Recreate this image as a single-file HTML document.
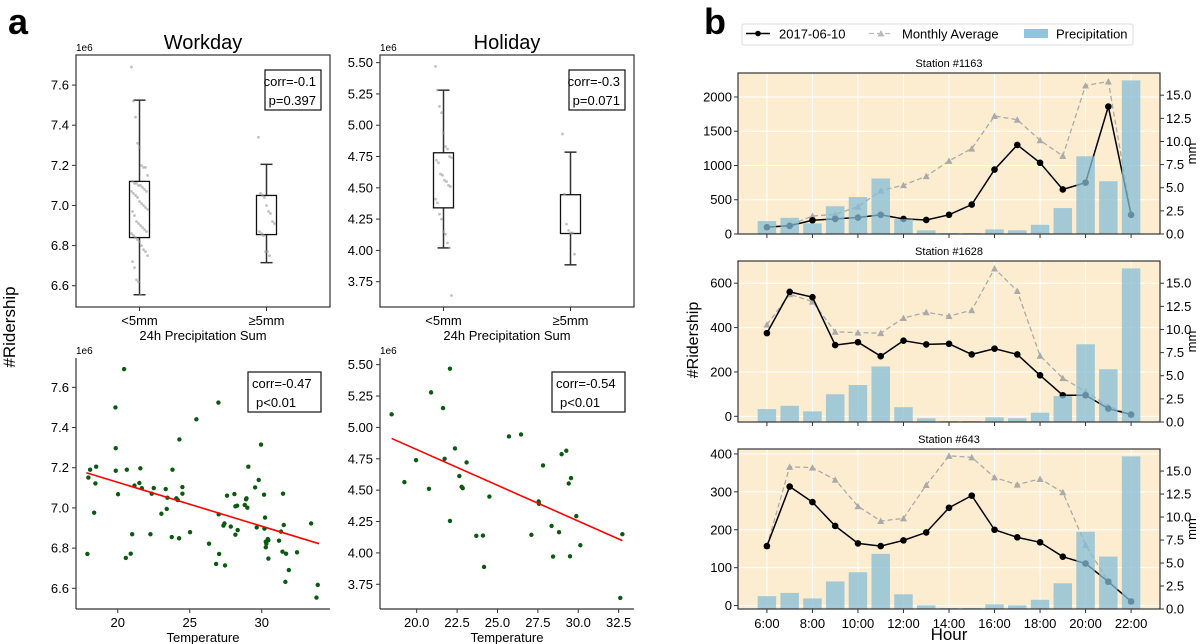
<!DOCTYPE html>
<html><head><meta charset="utf-8"><style>
html,body{margin:0;padding:0;background:#fff}
svg{display:block;font-family:"Liberation Sans","DejaVu Sans",sans-serif}
</style></head><body>
<svg id="fig" width="1200" height="644" viewBox="0 0 1200 644" xmlns="http://www.w3.org/2000/svg"></svg>
<script>
// ---------- DATA ----------
const hours=[6,7,8,9,10,11,12,13,14,15,16,17,18,19,20,21,22];
const hourTicks=[6,8,10,12,14,16,18,20,22];
const hourTickLabels=["6:00","8:00","10:00","12:00","14:00","16:00","18:00","20:00","22:00"];
const precip=[1.4,1.75,1.15,3.0,4.0,6.0,1.6,0.4,0.1,0.1,0.5,0.4,1.0,2.8,8.4,5.7,16.6];
const s1163Day=[100,120,200,220,240,280,220,205,280,430,940,1300,1040,650,750,1860,280];
const s1163Avg=[100,130,262,286,398,631,713,844,1067,1247,1722,1668,1368,1140,2168,2226,300];
const s1628Day=[375,561,537,321,334,271,341,324,327,279,305,279,185,95,95,35,8];
const s1628Avg=[413,550,517,381,377,375,443,469,452,478,666,565,273,172,112,45,8];
const s643Day=[157,314,273,210,164,157,172,193,258,290,200,180,167,129,111,63,11];
const s643Avg=[157,366,364,332,262,223,230,318,395,391,338,319,334,299,160,63,11];
const mmTicks=[0,2.5,5,7.5,10,12.5,15];
const mmTickLabels=["0.0","2.5","5.0","7.5","10.0","12.5","15.0"];
const t1163=[0,500,1000,1500,2000];
const t1628=[0,200,400,600];
const t643=[0,100,200,300,400];

const wdTemp=[17.89,17.96,18.08,18.36,18.45,18.50,19.84,19.86,19.86,20.02,20.44,20.56,20.63,20.90,21.00,21.16,21.50,21.57,21.67,22.27,22.36,22.50,23.03,23.33,23.40,23.45,23.75,23.80,24.07,24.17,24.26,24.28,24.49,24.49,25.02,25.46,26.34,26.83,26.99,27.01,27.04,27.34,27.41,27.45,27.59,27.85,28.10,28.17,28.17,28.29,28.33,28.82,28.91,28.94,29.00,29.07,29.54,29.65,29.79,29.95,30.16,30.23,30.19,30.28,30.32,30.28,30.42,30.46,30.46,31.20,31.34,31.44,31.48,31.53,31.69,31.64,31.88,32.45,33.43,33.80,33.89];
const wdRide=[6.771,7.151,7.190,6.976,7.122,7.205,7.500,7.297,7.185,7.068,7.691,6.751,7.190,6.772,6.869,7.111,7.124,7.197,7.098,6.869,7.071,7.099,6.971,7.094,6.995,7.051,6.855,7.190,7.048,7.039,6.849,7.341,7.104,7.071,6.879,7.441,6.822,6.721,7.524,6.968,6.771,6.912,6.923,6.714,7.061,6.907,7.069,7.008,6.867,7.011,6.890,7.015,7.043,7.048,7.001,7.205,7.102,6.903,7.139,7.315,7.066,6.952,6.897,6.832,6.822,6.804,6.845,6.839,6.748,6.837,6.882,6.782,7.071,6.915,6.772,6.632,6.691,6.779,6.923,6.554,6.617];
const wdFit=[[17.82,7.175],[33.98,6.822]];
const hdTemp=[18.45,19.24,19.96,20.76,20.89,21.63,21.73,22.06,22.06,22.37,22.64,22.78,22.85,23.09,23.69,24.10,24.17,24.50,25.71,26.46,27.10,27.55,27.57,27.82,28.35,28.44,28.81,28.97,29.26,29.41,29.49,29.55,29.88,30.13,32.60,32.73];
const hdRide=[5.104,4.564,4.739,4.511,5.279,5.154,4.750,5.468,4.255,4.832,4.612,4.527,4.516,4.721,4.136,4.138,3.888,4.449,4.928,4.944,4.144,4.410,4.391,4.697,4.215,3.971,4.165,4.787,4.814,4.553,3.973,4.596,4.293,4.061,3.641,4.149];
const hdFit=[[18.45,4.912],[32.73,4.098]];

const wdLowPts=[7.69,7.52,7.44,7.31,7.29,7.20,7.19,7.19,7.15,7.12,7.11,7.11,7.10,7.10,7.09,7.08,7.07,7.07,7.06,7.05,7.04,7.02,7.01,7.00,6.99,6.98,6.97,6.95,6.92,6.91,6.90,6.89,6.88,6.87,6.86,6.85,6.84,6.83,6.82,6.80,6.78,6.77,6.75,6.72,6.69,6.63,6.62,6.555];
const wdHighPts=[7.34,7.06,7.05,7.04,7.00,6.97,6.96,6.92,6.91,6.87,6.86,6.85,6.77,6.77,6.75];
const hdLowPts=[5.47,5.28,5.15,5.10,4.94,4.83,4.81,4.75,4.74,4.72,4.70,4.61,4.60,4.56,4.55,4.52,4.51,4.41,4.38,4.29,4.25,4.15,4.13,4.06,4.02,3.64];
const hdHighPts=[4.93,4.45,4.21,4.16,4.14,4.14,3.97];
const wdBoxLow=[6.555,6.84,6.98,7.12,7.525];
const wdBoxHigh=[6.715,6.855,6.92,7.05,7.205];
const hdBoxLow=[4.02,4.34,4.55,4.78,5.28];
const hdBoxHigh=[3.885,4.135,4.16,4.445,4.785];
const boxCats=["<5mm","≥5mm"];
const wdYTicks=[6.6,6.8,7.0,7.2,7.4,7.6];
const hdYTicks=[3.75,4.00,4.25,4.50,4.75,5.00,5.25,5.50];
const wdXTicks=[20,25,30];
const hdXTicks=[20,22.5,25,27.5,30,32.5];

// ---------- HELPERS ----------
const NS="http://www.w3.org/2000/svg";
const svg=document.getElementById('fig');
function el(tag,attrs,parent,text){const e=document.createElementNS(NS,tag);for(const k in attrs)e.setAttribute(k,attrs[k]);if(text!==undefined)e.textContent=text;(parent||svg).appendChild(e);return e;}
function lin(d0,d1,r0,r1){return v=>r0+(v-d0)*(r1-r0)/(d1-d0);}
function txt(x,y,s,size,anchor,parent,extra){const t=el('text',Object.assign({x:x,y:y,'font-size':size,'text-anchor':anchor||'middle',fill:'#000'},extra||{}),parent,s);return t;}

let t=txt(8,34,'a',36,'start',null,{'font-weight':'bold'});


t=txt(704,34,'b',36,'start',null,{'font-weight':'bold'});


t=txt(0,0,'#Ridership',17,'middle',null,{transform:'translate(15,327) rotate(-90)'});



// ---------- BOX PANELS ----------
function boxPanel(name,x0,x1,y0,y1,ylim,yTicks,dec,boxes,pts,corr,title,cx){
  const g=el('g',{});
  
  
  const ys=lin(ylim[0],ylim[1],y1,y0);
  const cxs=[x0+(x1-x0)*0.25,x0+(x1-x0)*0.75];
  el('rect',{x:x0,y:y0,width:x1-x0,height:y1-y0,fill:'#fff',stroke:'#333','stroke-width':1.2},g);
  yTicks.forEach(v=>{const y=ys(v);el('line',{x1:x0-4,x2:x0,y1:y,y2:y,stroke:'#333'},g);
    const tl=txt(x0-7,y+4.5,v.toFixed(dec),13,'end',g);
    
    });
  txt(x0,y0-4,'1e6',10,'start',g);
  boxes.forEach((b,i)=>{const cx=cxs[i];const w=20;
    el('line',{x1:cx,x2:cx,y1:ys(b[0]),y2:ys(b[4]),stroke:'#333','stroke-width':1.5},g);
    el('line',{x1:cx-6,x2:cx+6,y1:ys(b[0]),y2:ys(b[0]),stroke:'#333','stroke-width':1.5},g);
    el('line',{x1:cx-6,x2:cx+6,y1:ys(b[4]),y2:ys(b[4]),stroke:'#333','stroke-width':1.5},g);
    const r=el('rect',{x:cx-w/2,y:ys(b[3]),width:w,height:ys(b[1])-ys(b[3]),fill:'#fff',stroke:'#111','stroke-width':1.3},g);
    
    
    pts[i].forEach((v,j)=>{const jx=((j*53)%17-8)/8*8;
      const c=el('circle',{cx:cx+jx,cy:ys(v),r:1.4,fill:'#999','fill-opacity':0.6},g);
      
      });
    el('line',{x1:cx,x2:cx,y1:y1,y2:y1+4,stroke:'#333'},g);
    const cl=txt(cx,y1+18,boxCats[i],13,'middle',g);
    
    
  });
  const xt=txt((x0+x1)/2,y1+33,'24h Precipitation Sum',13,'middle',g);
  
  
  const tt=txt(cx,y0-6,title,20,'middle',g);
  
  
  const bx=x1-65,by=y0+15;
  const lb=el('rect',{x:bx,y:by,width:56,height:40,fill:'#fff',stroke:'#111','stroke-width':1.2},g);
  
  
  txt(bx+51,by+16,corr[0],13,'end',g);txt(bx+51,by+35,corr[1],13,'end',g);
}
boxPanel('workday-box-plot',76,330,55,307,[6.494,7.75],wdYTicks,1,[wdBoxLow,wdBoxHigh],[wdLowPts,wdHighPts],['corr=-0.1','p=0.397'],'Workday',203);
boxPanel('holiday-box-plot',380,634,55,307,[3.548,5.561],hdYTicks,2,[hdBoxLow,hdBoxHigh],[hdLowPts,hdHighPts],['corr=-0.3','p=0.071'],'Holiday',507);

// ---------- SCATTER PANELS ----------
function scatterPanel(name,x0,x1,y0,y1,xlim,ylim,xTicks,xdec,yTicks,ydec,tx,ry,fit,corr){
  const g=el('g',{});
  
  
  const xs=lin(xlim[0],xlim[1],x0,x1),ys=lin(ylim[0],ylim[1],y1,y0);
  el('line',{x1:x0,x2:x0,y1:y0,y2:y1,stroke:'#333','stroke-width':1.2},g);
  el('line',{x1:x0,x2:x1,y1:y1,y2:y1,stroke:'#333','stroke-width':1.2},g);
  yTicks.forEach(v=>{const y=ys(v);el('line',{x1:x0-4,x2:x0,y1:y,y2:y,stroke:'#333'},g);
    const tl=txt(x0-7,y+4.5,v.toFixed(ydec),13,'end',g);
    
    });
  xTicks.forEach(v=>{const x=xs(v);el('line',{x1:x,x2:x,y1:y1,y2:y1+4,stroke:'#333'},g);
    const tl=txt(x,y1+18,v.toFixed(xdec),13,'middle',g);
    
    });
  txt(x0,y0-4,'1e6',10,'start',g);
  const xt=txt((x0+x1)/2,y1+33,'Temperature',13,'middle',g);
  
  
  tx.forEach((v,i)=>{const c=el('circle',{cx:xs(v),cy:ys(ry[i]),r:2.2,fill:'#0a5a12'},g);
    
    });
  const ln=el('line',{x1:xs(fit[0][0]),y1:ys(fit[0][1]),x2:xs(fit[1][0]),y2:ys(fit[1][1]),stroke:'#f00','stroke-width':1.6},g);
  
  
  const bx=x1-82,by=y0+14;
  const lb=el('rect',{x:bx,y:by,width:73,height:40,fill:'#fff',stroke:'#111','stroke-width':1.2},g);
  
  
  txt(bx+4,by+16,corr[0],13,'start',g);txt(bx+8,by+35,corr[1],13,'start',g);
}
scatterPanel('workday-scatter',76,330,358,609,[17.1,34.74],[6.497,7.746],wdXTicks,0,wdYTicks,1,wdTemp,wdRide,wdFit,['corr=-0.47','p<0.01']);
scatterPanel('holiday-scatter',380,634,358,609,[17.73,33.45],[3.553,5.553],hdXTicks,1,hdYTicks,2,hdTemp,hdRide,hdFit,['corr=-0.54','p<0.01']);

// ---------- RIGHT STATION PANELS ----------
const RX0=738,RX1=1160;
const hx=lin(4.73,23.27,RX0,RX1);
function station(name,title,y0,y1,ylim,ticks,day,avg,showX){
  const g=el('g',{});
  
  
  const ys=lin(ylim[0],ylim[1],y1,y0);
  const ms=lin(0,17.4,y1,y0);
  el('rect',{x:RX0,y:y0,width:RX1-RX0,height:y1-y0,fill:'#fdedd0'},g);
  ticks.forEach(v=>{const y=ys(v);el('line',{x1:RX0,x2:RX1,y1:y,y2:y,stroke:'#fff','stroke-width':1},g);
    el('line',{x1:RX0-4,x2:RX0,y1:y,y2:y,stroke:'#333'},g);
    const tl=txt(RX0-6,y+4.5,String(v),13,'end',g);
    
    });
  hourTicks.forEach((h,i)=>{const x=hx(h);el('line',{x1:x,x2:x,y1:y0,y2:y1,stroke:'#fff','stroke-width':1},g);
    el('line',{x1:x,x2:x,y1:y1,y2:y1+4,stroke:'#333'},g);
    if(showX){const tl=txt(x,y1+19,hourTickLabels[i],13,'middle',g);
      
      }});
  const ap=hours.map((h,i)=>hx(h)+','+ys(avg[i])).join(' ');
  const al=el('polyline',{points:ap,fill:'none',stroke:'#aaa','stroke-width':1.3,'stroke-dasharray':'5,3'},g);
  
  
  hours.forEach((h,i)=>{const x=hx(h),y=ys(avg[i]);
    const m=el('polygon',{points:(x-3.5)+','+(y+3)+' '+(x+3.5)+','+(y+3)+' '+x+','+(y-3.5),fill:'#aaa'},g);
    
    });
  const dp=hours.map((h,i)=>hx(h)+','+ys(day[i])).join(' ');
  const dl=el('polyline',{points:dp,fill:'none',stroke:'#000','stroke-width':1.5},g);
  
  
  hours.forEach((h,i)=>{const c=el('circle',{cx:hx(h),cy:ys(day[i]),r:3.3,fill:'#000'},g);
    
    });
  hours.forEach((h,i)=>{const bw=18.5;
    const b=el('rect',{x:hx(h)-bw/2,y:ms(precip[i]),width:bw,height:y1-ms(precip[i]),fill:'#84bcd6','fill-opacity':0.75},g);
    
    });
  el('rect',{x:RX0,y:y0,width:RX1-RX0,height:y1-y0,fill:'none',stroke:'#333','stroke-width':1.2},g);
  mmTicks.forEach((v,i)=>{const y=ms(v);el('line',{x1:RX1,x2:RX1+4,y1:y,y2:y,stroke:'#333'},g);
    const tl=txt(RX1+6,y+4.5,mmTickLabels[i],13,'start',g);
    
    });
  txt(0,0,'mm',13,'middle',g).setAttribute('transform','translate(1196,'+((y0+y1)/2)+') rotate(-90)');
  const tt=txt((RX0+RX1)/2,y0-6,title,11,'middle',g);
  
  
}
station('station-1163-chart','Station #1163',73,234,[0,2350],t1163,s1163Day,s1163Avg,false);
station('station-1628-chart','Station #1628',261,422,[-25.6,700],t1628,s1628Day,s1628Avg,false);
station('station-643-chart','Station #643',449,609,[-9,413],t643,s643Day,s643Avg,true);
t=txt(949,640,'Hour',17,'middle');


t=txt(0,0,'#Ridership',16,'middle',null,{transform:'translate(698,340) rotate(-90)'});



const lg=el('g',{});


el('rect',{x:742,y:24,width:391,height:21,fill:'#fff',stroke:'#ddd',rx:2},lg);
el('line',{x1:746,x2:770,y1:33.5,y2:33.5,stroke:'#000','stroke-width':1.5},lg);
el('circle',{cx:758,cy:33.5,r:2.8,fill:'#000'},lg);
txt(779,38.5,'2017-06-10',13,'start',lg);
el('line',{x1:869,x2:893,y1:33.5,y2:33.5,stroke:'#bbb','stroke-width':1.3,'stroke-dasharray':'5,3'},lg);
el('polygon',{points:'877.5,36.5 884.5,36.5 881,30',fill:'#bbb'},lg);
txt(902,38.5,'Monthly Average',13,'start',lg);
el('rect',{x:1024,y:29,width:24,height:9,fill:'#93c4dd'},lg);
txt(1056,38.5,'Precipitation',13,'start',lg);
</script>
</body></html>
